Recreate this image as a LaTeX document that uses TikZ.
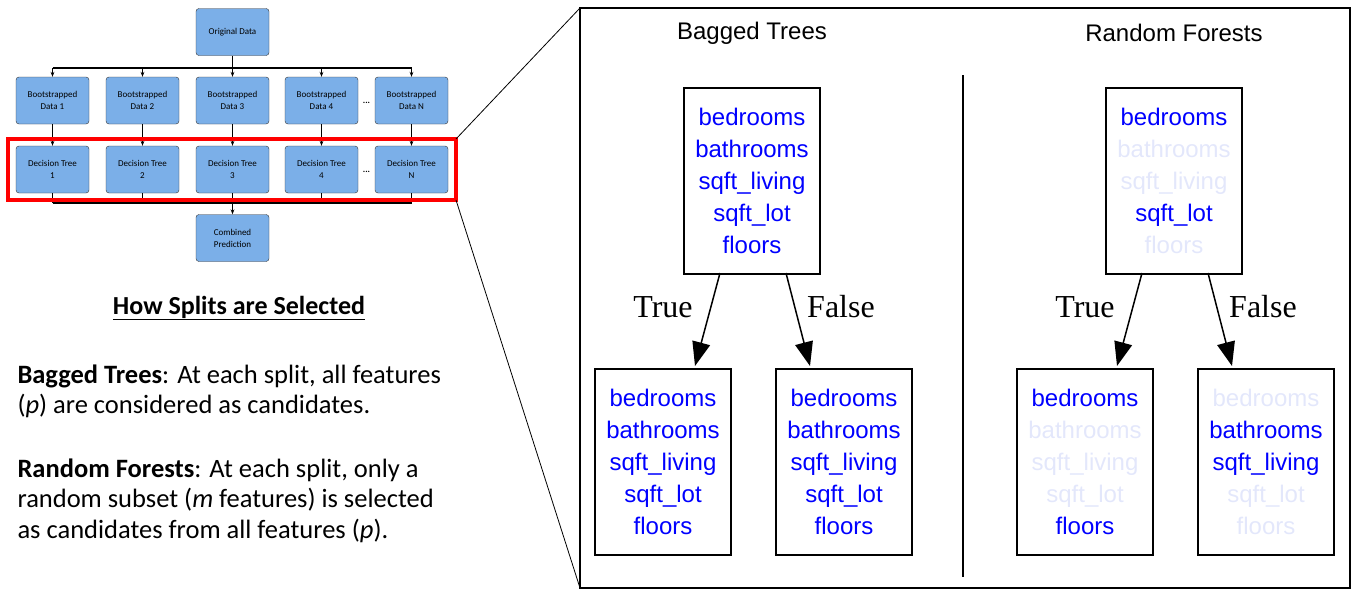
\documentclass[tikz,border=0pt]{standalone}
\usepackage{fontspec}
\setmainfont{Liberation Sans}
\newfontfamily\carl{Carlito}
\newfontfamily\serf{Liberation Serif}
\usetikzlibrary{arrows.meta}
\definecolor{boxblue}{HTML}{7BAFE8}
\definecolor{faint}{HTML}{E3E7FB}
\begin{document}
\begin{tikzpicture}[x=1pt,y=-1pt,
 fb/.style={draw=black!80,fill=boxblue,rounded corners=3pt,minimum width=73pt,minimum height=47pt,align=center,font=\carl\fontsize{9}{12}\selectfont,inner sep=1pt},
 tb/.style={draw=black,line width=1.5pt,minimum width=136pt,minimum height=186pt,align=center,font=\fontsize{24}{32}\selectfont,text=blue},
 fa/.style={-{Stealth[length=5pt]},line width=1.3pt},
 ta/.style={-{Triangle[length=24pt,width=18pt]},line width=1.5pt},
 lab/.style={font=\serf\fontsize{32}{34}\selectfont},
 tt/.style={font=\fontsize{24}{28}\selectfont}]
\useasboundingbox (0,0) rectangle (1358,595);
% flowchart
\node[fb] (orig) at (232.5,32) {Original Data};
\foreach \i/\x/\t in {1/52.5/1,2/142.5/2,3/232.5/3,4/321.5/4,5/411.5/N}{
 \node[fb] (b\i) at (\x,100.5) {Bootstrapped\\Data \t};
 \node[fb] (d\i) at (\x,169.5) {Decision Tree\\\t};
 \draw[fa] (b\i) -- (d\i);
}
\node[fb] (comb) at (232.5,238) {Combined\\Prediction};
\coordinate (tl) at (52.5,68); \coordinate (tr) at (411.5,68);
\coordinate (bl) at (52.5,203); \coordinate (br) at (411.5,203);
\draw[line width=1.3pt] (tl) -- (tr) (bl) -- (br) (orig) -- (232.5,68);
\foreach \i in {1,...,5}{\draw[fa] (b\i.north |- tl) -- (b\i.north); \draw[line width=1.3pt] (d\i.south) -- (d\i.south |- bl);}
\draw[fa] (232.5,203) -- (comb);
\node[font=\carl\bfseries\fontsize{9}{10}\selectfont] (e1) at (366.5,103) {...};
\node[font=\carl\bfseries\fontsize{9}{10}\selectfont] (e2) at (366.5,172) {...};
\draw[red,line width=3.5pt] (8,139) rectangle (456,200);
% zoom lines
\draw[line width=0.8pt] (456,139) -- (580,8) (456,200) -- (580,588);
\draw[line width=1.2pt] (580,8) rectangle (1350,588);
\draw[line width=2pt] (963,75) -- (963,577);
% left text
\node[font=\carl\fontsize{26}{30}\selectfont] (hd) at (239,308) {\textbf{\underline{How Splits are Selected}}};
\node[font=\carl\fontsize{26.5}{30.5}\selectfont,align=left,anchor=north west] (tx) at (14,361) {\textbf{Bagged Trees}: At each split, all features\\(\textit{p}) are considered as candidates.\\[33pt]\textbf{Random Forests}: At each split, only a\\random subset (\textit{m} features) is selected\\as candidates from all features (\textit{p}).};
% right panel
\node[tt] (t1) at (752,33) {Bagged Trees};
\node[tt] (t2) at (1174,33) {Random Forests};
\node[tb] (r1) at (752,181) {bedrooms\\bathrooms\\sqft\_living\\sqft\_lot\\floors};
\node[tb] (a1) at (663,462) {bedrooms\\bathrooms\\sqft\_living\\sqft\_lot\\floors};
\node[tb] (c1) at (844,462) {bedrooms\\bathrooms\\sqft\_living\\sqft\_lot\\floors};
\node[tb] (r2) at (1174,181) {bedrooms\\\textcolor{faint}{bathrooms}\\\textcolor{faint}{sqft\_living}\\sqft\_lot\\\textcolor{faint}{floors}};
\node[tb] (a2) at (1085,462) {bedrooms\\\textcolor{faint}{bathrooms}\\\textcolor{faint}{sqft\_living}\\\textcolor{faint}{sqft\_lot}\\floors};
\node[tb] (c2) at (1266,462) {\textcolor{faint}{bedrooms}\\bathrooms\\sqft\_living\\\textcolor{faint}{sqft\_lot}\\\textcolor{faint}{floors}};
\draw[ta] (720,273) -- (695,366);
\draw[ta] (786,273) -- (810,366);
\draw[ta] (1142,273) -- (1117,366);
\draw[ta] (1208,273) -- (1232,366);
\node[lab] (l1) at (663,307) {True};
\node[lab] (l2) at (841,307) {False};
\node[lab] (l3) at (1085,307) {True};
\node[lab] (l4) at (1263,307) {False};
\end{tikzpicture}
\end{document}
